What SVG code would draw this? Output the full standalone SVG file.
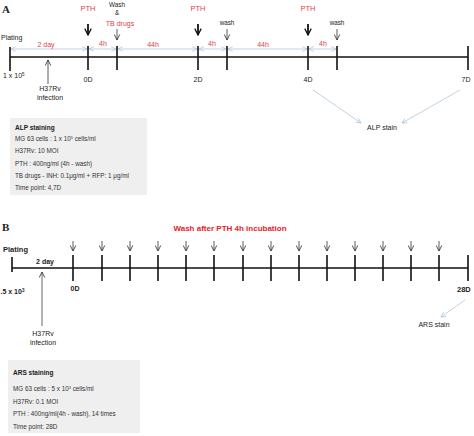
<svg xmlns="http://www.w3.org/2000/svg" width="474" height="436" viewBox="0 0 474 436">
<style>
.t{font-family:"Liberation Sans",Arial,sans-serif;fill:#222}
.a{font-size:7px}
.r{fill:#e0404f}
.bd{font-weight:bold}
.main{stroke:#111;stroke-width:1.3;fill:none}
.tick{stroke:#111;stroke-width:1.6}
.thin{stroke:#333;stroke-width:0.8;fill:none}
.thick{stroke:#111;stroke-width:1.8;fill:none}
.dim{stroke:#b9cde0;stroke-width:0.9;fill:none}
.box{fill:#efefef}
.bx{font-size:6.3px;fill:#333}
.w{font-size:6.3px}
</style>
<defs>
<marker id="ah" viewBox="0 0 10 10" refX="9" refY="5" markerWidth="7" markerHeight="7" orient="auto-start-reverse" markerUnits="userSpaceOnUse"><path d="M1,1 L9,5 L1,9" fill="none" stroke="#333" stroke-width="1.2"/></marker>
<marker id="ahk" viewBox="0 0 10 10" refX="9" refY="5" markerWidth="8" markerHeight="8" orient="auto" markerUnits="userSpaceOnUse"><path d="M1,1 L9,5 L1,9" fill="none" stroke="#111" stroke-width="1.6"/></marker>
<marker id="ahb" viewBox="0 0 10 10" refX="9" refY="5" markerWidth="6" markerHeight="6" orient="auto-start-reverse" markerUnits="userSpaceOnUse"><path d="M1,1 L9,5 L1,9" fill="none" stroke="#a9c0d8" stroke-width="1.2"/></marker>
</defs>

<!-- Panel A -->
<g id="panelA">
<text class="t bd" x="2" y="13" style="font-family:'Liberation Serif',serif;font-size:11px">A</text>
<g id="timelineA">
<line class="main" x1="10" y1="57" x2="468" y2="57"/>
<line class="tick" x1="10" y1="47" x2="10" y2="71"/>
<line class="tick" x1="88" y1="46" x2="88" y2="70"/>
<line class="tick" x1="117" y1="46" x2="117" y2="70"/>
<line class="tick" x1="198" y1="46" x2="198" y2="70"/>
<line class="tick" x1="227" y1="46" x2="227" y2="70"/>
<line class="tick" x1="308" y1="46" x2="308" y2="70"/>
<line class="tick" x1="337" y1="46" x2="337" y2="70"/>
<line class="tick" x1="468" y1="46" x2="468" y2="70"/>
</g>
<g id="dimsA">
<line class="dim" x1="11" y1="49" x2="87" y2="49" marker-start="url(#ahb)" marker-end="url(#ahb)"/>
<line class="dim" x1="89" y1="49" x2="116" y2="49" marker-start="url(#ahb)" marker-end="url(#ahb)"/>
<line class="dim" x1="118" y1="49" x2="197" y2="49" marker-start="url(#ahb)" marker-end="url(#ahb)"/>
<line class="dim" x1="199" y1="49" x2="226" y2="49" marker-start="url(#ahb)" marker-end="url(#ahb)"/>
<line class="dim" x1="228" y1="49" x2="307" y2="49" marker-start="url(#ahb)" marker-end="url(#ahb)"/>
<line class="dim" x1="309" y1="49" x2="336" y2="49" marker-start="url(#ahb)" marker-end="url(#ahb)"/>
</g>
<text class="t a r" x="46" y="47" text-anchor="middle">2 day</text>
<text class="t a r" x="103" y="46" text-anchor="middle">4h</text>
<text class="t a r" x="153" y="47" text-anchor="middle">44h</text>
<text class="t a r" x="212" y="46" text-anchor="middle">4h</text>
<text class="t a r" x="263" y="47" text-anchor="middle">44h</text>
<text class="t a r" x="323" y="46" text-anchor="middle">4h</text>

<g id="arrowsA">
<line class="thick" x1="88" y1="24" x2="88" y2="35" marker-end="url(#ahk)"/>
<line class="thick" x1="198" y1="24" x2="198" y2="35" marker-end="url(#ahk)"/>
<line class="thick" x1="308" y1="24" x2="308" y2="35" marker-end="url(#ahk)"/>
<line class="thin" x1="117" y1="29" x2="117" y2="40" marker-end="url(#ah)"/>
<line class="thin" x1="227" y1="29" x2="227" y2="40" marker-end="url(#ah)"/>
<line class="thin" x1="337" y1="29" x2="337" y2="40" marker-end="url(#ah)"/>
<line class="thin" x1="48" y1="84" x2="48" y2="60" marker-end="url(#ah)"/>
</g>
<text class="t a r" x="88" y="11" text-anchor="middle" style="font-size:7.5px">PTH</text>
<text class="t a r" x="198" y="11" text-anchor="middle" style="font-size:7.5px">PTH</text>
<text class="t a r" x="308" y="11" text-anchor="middle" style="font-size:7.5px">PTH</text>
<text class="t w" x="117" y="7" text-anchor="middle">Wash</text>
<text class="t w" x="117" y="15" text-anchor="middle">&amp;</text>
<text class="t a r" x="120" y="26" text-anchor="middle">TB drugs</text>
<text class="t w" x="227" y="25" text-anchor="middle">wash</text>
<text class="t w" x="337" y="25" text-anchor="middle">wash</text>

<text class="t a" x="1" y="40">Plating</text>
<text class="t a" x="3" y="78">1 x 10<tspan dy="-2.5" style="font-size:4.5px">5</tspan></text>
<text class="t a" x="88" y="82" text-anchor="middle">0D</text>
<text class="t a" x="198" y="82" text-anchor="middle">2D</text>
<text class="t a" x="308" y="82" text-anchor="middle">4D</text>
<text class="t a" x="466" y="82" text-anchor="middle">7D</text>
<text class="t a" x="50" y="91" text-anchor="middle">H37Rv</text>
<text class="t a" x="50" y="100" text-anchor="middle">infection</text>

<g id="alpStain">
<line class="dim" x1="313" y1="90" x2="361" y2="123" marker-end="url(#ahb)"/>
<line class="dim" x1="460" y1="90" x2="402" y2="123" marker-end="url(#ahb)"/>
<text class="t a" x="382" y="130" text-anchor="middle">ALP stain</text>
</g>

<g id="alpBox">
<rect class="box" x="10" y="118" width="137" height="77"/>
<text class="t bd" x="15" y="130" style="font-size:6.5px">ALP staining</text>
<text class="t bx" x="15" y="141">MG 63 cells :  1 x 10<tspan dy="-2" style="font-size:4px">5</tspan><tspan dy="2"> cells/ml</tspan></text>
<text class="t bx" x="15" y="153">H37Rv: 10 MOI</text>
<text class="t bx" x="15" y="166">PTH : 400ng/ml (4h - wash)</text>
<text class="t bx" x="15" y="178">TB drugs - INH: 0.1μg/ml + RFP: 1 μg/ml</text>
<text class="t bx" x="15" y="190">Time point: 4,7D</text>
</g>
</g>

<!-- Panel B -->
<g id="panelB">
<text class="t bd" x="2" y="231" style="font-family:'Liberation Serif',serif;font-size:11px">B</text>
<text class="t bd" x="230" y="231" text-anchor="middle" style="font-size:8px;fill:#e8202a">Wash after PTH 4h incubation</text>
<g id="timelineB">
<line class="main" x1="12" y1="268" x2="468" y2="268"/>
<line class="tick" x1="12" y1="257" x2="12" y2="272"/>
<line class="tick" x1="73" y1="255" x2="73" y2="281"/>
<line class="tick" x1="102" y1="255" x2="102" y2="281"/>
<line class="tick" x1="130" y1="255" x2="130" y2="281"/>
<line class="tick" x1="158" y1="255" x2="158" y2="281"/>
<line class="tick" x1="186" y1="255" x2="186" y2="281"/>
<line class="tick" x1="214" y1="255" x2="214" y2="281"/>
<line class="tick" x1="243" y1="255" x2="243" y2="281"/>
<line class="tick" x1="271" y1="255" x2="271" y2="281"/>
<line class="tick" x1="299" y1="255" x2="299" y2="281"/>
<line class="tick" x1="327" y1="255" x2="327" y2="281"/>
<line class="tick" x1="355" y1="255" x2="355" y2="281"/>
<line class="tick" x1="383" y1="255" x2="383" y2="281"/>
<line class="tick" x1="411" y1="255" x2="411" y2="281"/>
<line class="tick" x1="439" y1="255" x2="439" y2="281"/>
<line class="tick" x1="468" y1="255" x2="468" y2="281"/>
</g>
<g id="arrowsB">
<line class="thin" x1="73" y1="241" x2="73" y2="251" marker-end="url(#ah)"/>
<line class="thin" x1="102" y1="241" x2="102" y2="251" marker-end="url(#ah)"/>
<line class="thin" x1="130" y1="241" x2="130" y2="251" marker-end="url(#ah)"/>
<line class="thin" x1="158" y1="241" x2="158" y2="251" marker-end="url(#ah)"/>
<line class="thin" x1="186" y1="241" x2="186" y2="251" marker-end="url(#ah)"/>
<line class="thin" x1="214" y1="241" x2="214" y2="251" marker-end="url(#ah)"/>
<line class="thin" x1="243" y1="241" x2="243" y2="251" marker-end="url(#ah)"/>
<line class="thin" x1="271" y1="241" x2="271" y2="251" marker-end="url(#ah)"/>
<line class="thin" x1="299" y1="241" x2="299" y2="251" marker-end="url(#ah)"/>
<line class="thin" x1="327" y1="241" x2="327" y2="251" marker-end="url(#ah)"/>
<line class="thin" x1="355" y1="241" x2="355" y2="251" marker-end="url(#ah)"/>
<line class="thin" x1="383" y1="241" x2="383" y2="251" marker-end="url(#ah)"/>
<line class="thin" x1="411" y1="241" x2="411" y2="251" marker-end="url(#ah)"/>
<line class="thin" x1="439" y1="241" x2="439" y2="251" marker-end="url(#ah)"/>
<line x1="42" y1="326" x2="42" y2="272" stroke="#555" stroke-width="0.9" marker-end="url(#ah)"/>
</g>
<text class="t bd" x="3" y="252" style="font-size:7.5px">Plating</text>
<text class="t bd" x="45" y="264" text-anchor="middle" style="font-size:7px">2 day</text>
<text class="t bd" x="75" y="291" text-anchor="middle" style="font-size:7px">0D</text>
<text class="t bd" x="0.5" y="294" style="font-size:7px">.5 x 10<tspan dy="-2.5" style="font-size:4.5px">3</tspan></text>
<text class="t bd" x="457" y="292" style="font-size:7.5px">28D</text>
<text class="t a" x="43" y="336" text-anchor="middle">H37Rv</text>
<text class="t a" x="43" y="345" text-anchor="middle">infection</text>

<g id="arsStain">
<line class="dim" x1="465" y1="300" x2="441" y2="317" marker-end="url(#ahb)"/>
<text class="t a" x="434" y="327" text-anchor="middle">ARS stain</text>
</g>

<g id="arsBox">
<rect class="box" x="8" y="360" width="132" height="73"/>
<text class="t bd" x="13" y="375" style="font-size:6.5px">ARS staining</text>
<text class="t bx" x="13" y="391">MG 63 cells :  5 x 10<tspan dy="-2" style="font-size:4px">3</tspan><tspan dy="2"> cells/ml</tspan></text>
<text class="t bx" x="13" y="404">H37Rv: 0.1 MOI</text>
<text class="t bx" x="13" y="416">PTH : 400ng/ml(4h - wash), 14 times</text>
<text class="t bx" x="13" y="429">Time point: 28D</text>
</g>
</g>
</svg>
